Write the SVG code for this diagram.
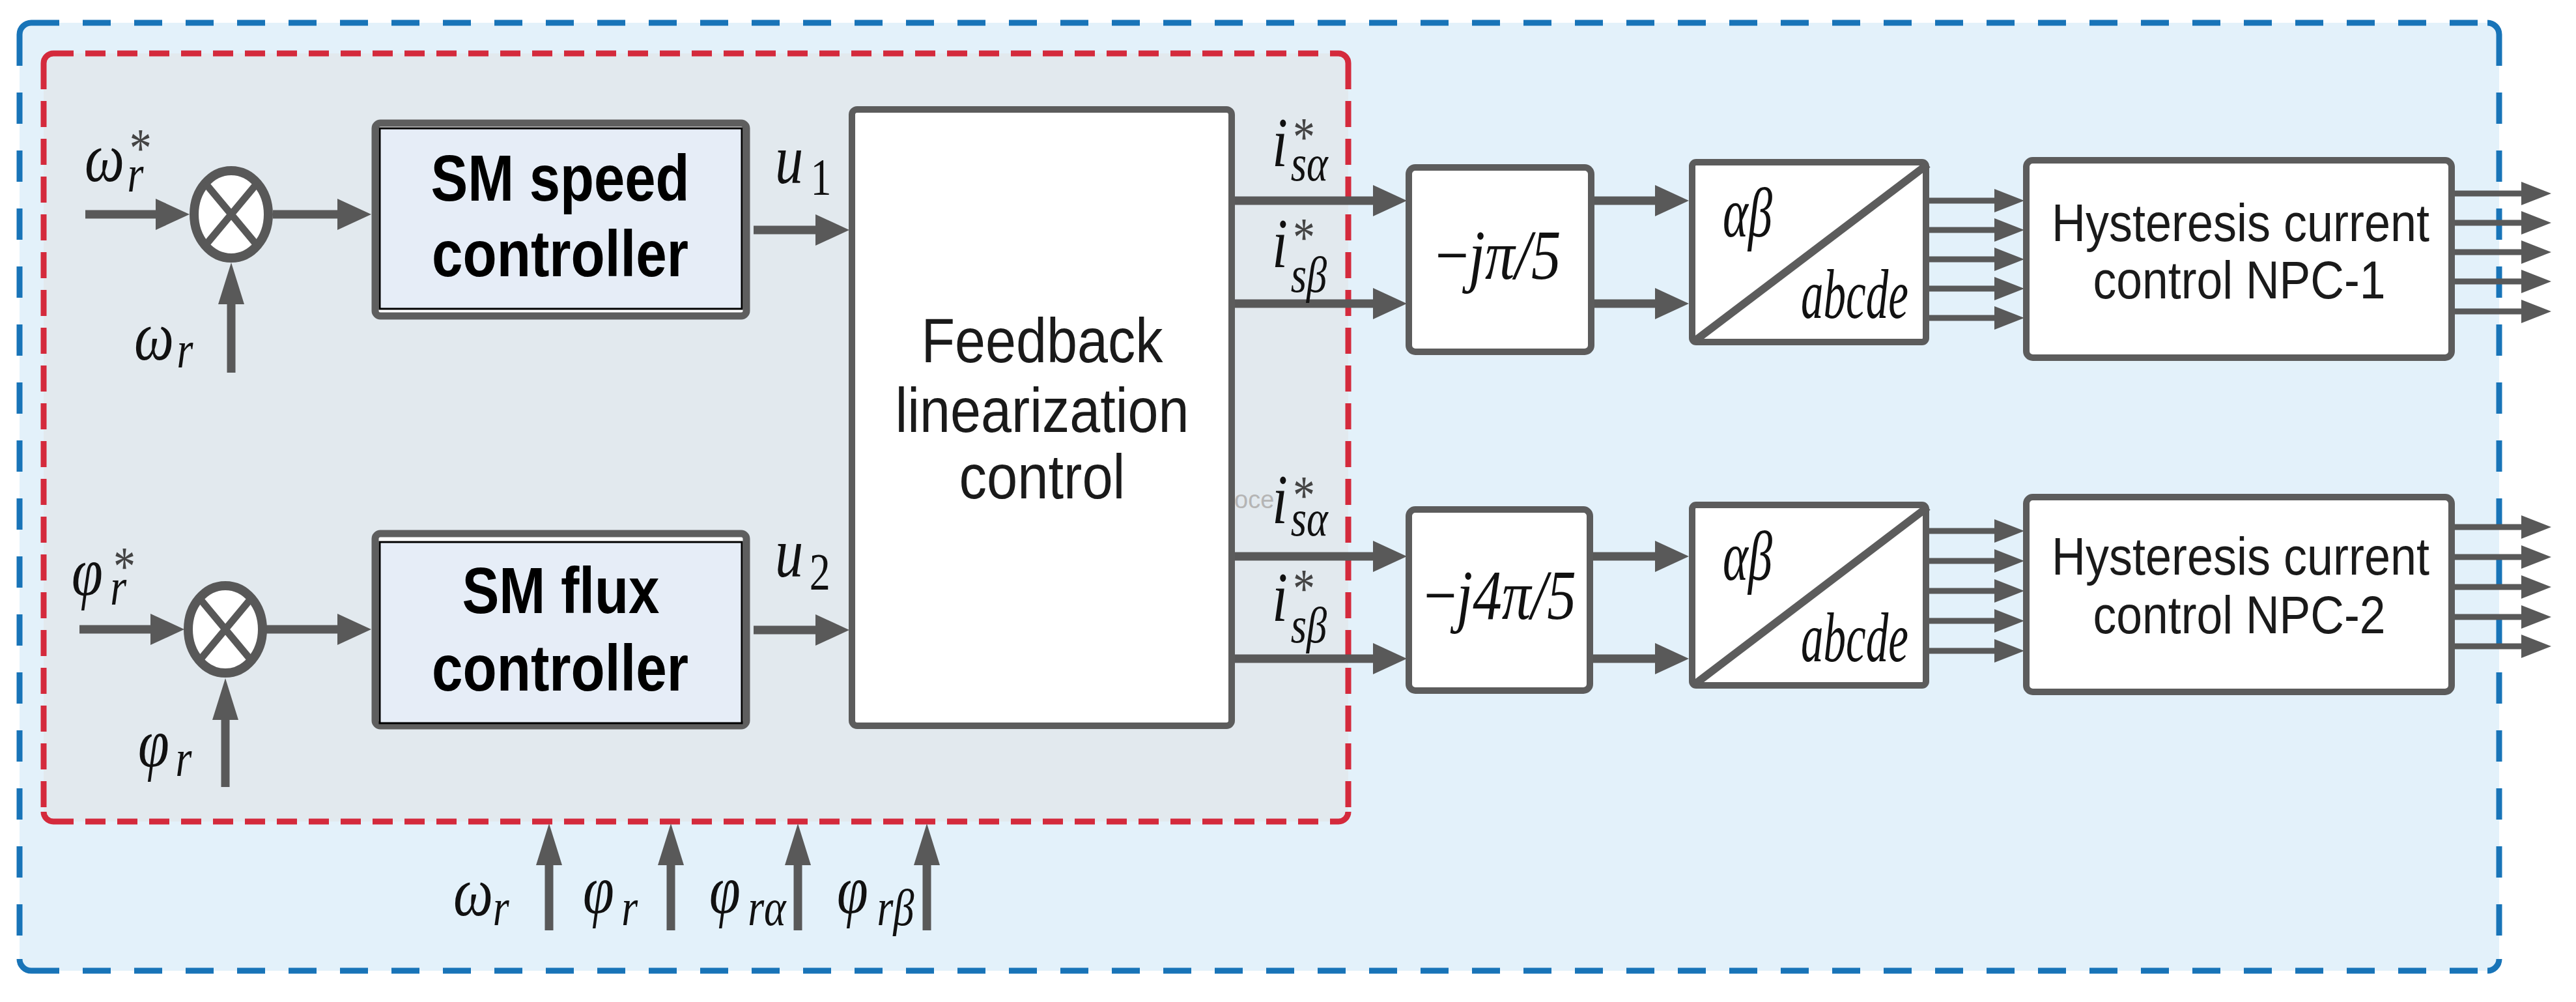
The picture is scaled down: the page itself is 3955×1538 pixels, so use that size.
<svg xmlns="http://www.w3.org/2000/svg" width="3955" height="1538" viewBox="0 0 3955 1538">
<style>
.box{fill:#fff;stroke:#5c5c5c;stroke-width:10}
.smo{fill:#fff;stroke:#5e5e5e;stroke-width:11}
.smi{fill:#E6EDF7;stroke:#000;stroke-width:3}
.sum{fill:#fff;stroke:#585858;stroke-width:14}
.sumx{stroke:#585858;stroke-width:11}
.a{stroke:#595959;stroke-width:13;fill:none}
.ab{stroke:#595959;stroke-width:9;fill:none}
.bl{fill:none;stroke:#1874b8;stroke-width:9}
.rd{fill:none;stroke:#d42a3c;stroke-width:9}
.sans{font-family:"Liberation Sans",Arial,sans-serif}
.bold{font-weight:bold;font-size:100px;fill:#000}
.reg{font-size:96px;fill:#1a1a1a}
.hy{font-size:81px;fill:#1a1a1a}
.m{font-family:"Liberation Serif","Times New Roman",serif;font-style:italic;font-size:108px;fill:#111}
.s{font-size:80px}
.s2{font-size:78px}
.st{font-size:85px;fill:#444;font-style:normal}
.up{font-style:normal}
</style>
<defs>
<marker id="hA" markerUnits="userSpaceOnUse" markerWidth="52" markerHeight="48" viewBox="0 0 52 48" refX="1" refY="24" orient="auto"><path d="M0,0 L52,24 L0,48 z" fill="#595959"/></marker>
<marker id="hB" markerUnits="userSpaceOnUse" markerWidth="46" markerHeight="36" viewBox="0 0 46 36" refX="1" refY="18" orient="auto"><path d="M0,0 L46,18 L0,36 z" fill="#595959"/></marker>
<marker id="hC" markerUnits="userSpaceOnUse" markerWidth="64" markerHeight="40" viewBox="0 0 64 40" refX="1" refY="20" orient="auto"><path d="M0,0 L64,20 L0,40 z" fill="#595959"/></marker>
</defs>
<rect width="3955" height="1538" fill="#fff"/>
<g id="outer-region">
<rect x="30" y="35" width="3807" height="1455" rx="18" fill="#E3F1FA"/>
<path class="bl" d="M48,35 H3819 M48,1490 H3819" stroke-dasharray="43 36"/>
<path class="bl" d="M30,53 V1472 M3837,53 V1472" stroke-dasharray="48 41"/>
<path class="bl" d="M30,53 A18,18 0 0 1 48,35 M3819,35 A18,18 0 0 1 3837,53 M3837,1472 A18,18 0 0 1 3819,1490 M48,1490 A18,18 0 0 1 30,1472"/>
</g>
<g id="inner-region">
<rect x="67" y="82" width="2003" height="1179" rx="15" fill="#E2E9EE"/>
<path class="rd" d="M82,82 H2055 M82,1261 H2055" stroke-dasharray="31 18"/>
<path class="rd" d="M67,97 V1246 M2070,97 V1246" stroke-dasharray="40 18"/>
<path class="rd" d="M67,97 A15,15 0 0 1 82,82 M2055,82 A15,15 0 0 1 2070,97 M2070,1246 A15,15 0 0 1 2055,1261 M82,1261 A15,15 0 0 1 67,1246"/>
</g>
<g id="connectors">
<line class="a" x1="131" y1="329" x2="240" y2="329" marker-end="url(#hA)"/>
<line class="a" x1="419" y1="329" x2="519" y2="329" marker-end="url(#hA)"/>
<line class="a" x1="355" y1="572" x2="355" y2="466" marker-end="url(#hC)"/>
<line class="a" x1="122" y1="966" x2="232" y2="966" marker-end="url(#hA)"/>
<line class="a" x1="409" y1="966" x2="519" y2="966" marker-end="url(#hA)"/>
<line class="a" x1="346" y1="1208" x2="346" y2="1104" marker-end="url(#hC)"/>
<line class="a" x1="1157" y1="353" x2="1253" y2="353" marker-end="url(#hA)"/>
<line class="a" x1="1157" y1="967" x2="1253" y2="967" marker-end="url(#hA)"/>
<line class="a" x1="1891" y1="308" x2="2109" y2="308" marker-end="url(#hA)"/>
<line class="a" x1="1891" y1="466" x2="2109" y2="466" marker-end="url(#hA)"/>
<line class="a" x1="1891" y1="854" x2="2109" y2="854" marker-end="url(#hA)"/>
<line class="a" x1="1891" y1="1011" x2="2109" y2="1011" marker-end="url(#hA)"/>
<line class="a" x1="2443" y1="308" x2="2542" y2="308" marker-end="url(#hA)"/>
<line class="a" x1="2443" y1="466" x2="2542" y2="466" marker-end="url(#hA)"/>
<line class="a" x1="2441" y1="854" x2="2542" y2="854" marker-end="url(#hA)"/>
<line class="a" x1="2441" y1="1011" x2="2542" y2="1011" marker-end="url(#hA)"/>
<g class="ab">
<line x1="2957" y1="308" x2="3063" y2="308" marker-end="url(#hB)"/>
<line x1="2957" y1="353" x2="3063" y2="353" marker-end="url(#hB)"/>
<line x1="2957" y1="398" x2="3063" y2="398" marker-end="url(#hB)"/>
<line x1="2957" y1="443" x2="3063" y2="443" marker-end="url(#hB)"/>
<line x1="2957" y1="488" x2="3063" y2="488" marker-end="url(#hB)"/>
<line x1="2957" y1="815" x2="3063" y2="815" marker-end="url(#hB)"/>
<line x1="2957" y1="861" x2="3063" y2="861" marker-end="url(#hB)"/>
<line x1="2957" y1="907" x2="3063" y2="907" marker-end="url(#hB)"/>
<line x1="2957" y1="953" x2="3063" y2="953" marker-end="url(#hB)"/>
<line x1="2957" y1="999" x2="3063" y2="999" marker-end="url(#hB)"/>
<line x1="3764" y1="297" x2="3872" y2="297" marker-end="url(#hB)"/>
<line x1="3764" y1="342" x2="3872" y2="342" marker-end="url(#hB)"/>
<line x1="3764" y1="387" x2="3872" y2="387" marker-end="url(#hB)"/>
<line x1="3764" y1="432" x2="3872" y2="432" marker-end="url(#hB)"/>
<line x1="3764" y1="478" x2="3872" y2="478" marker-end="url(#hB)"/>
<line x1="3764" y1="809" x2="3872" y2="809" marker-end="url(#hB)"/>
<line x1="3764" y1="855" x2="3872" y2="855" marker-end="url(#hB)"/>
<line x1="3764" y1="901" x2="3872" y2="901" marker-end="url(#hB)"/>
<line x1="3764" y1="947" x2="3872" y2="947" marker-end="url(#hB)"/>
<line x1="3764" y1="992" x2="3872" y2="992" marker-end="url(#hB)"/>
</g>
<line class="a" x1="843" y1="1428" x2="843" y2="1327" marker-end="url(#hC)"/>
<line class="a" x1="1030" y1="1428" x2="1030" y2="1327" marker-end="url(#hC)"/>
<line class="a" x1="1225" y1="1428" x2="1225" y2="1327" marker-end="url(#hC)"/>
<line class="a" x1="1423" y1="1428" x2="1423" y2="1327" marker-end="url(#hC)"/>
</g>
<g id="sum1">
<ellipse class="sum" cx="355" cy="329" rx="57" ry="67"/>
<path class="sumx" d="M315,281 L395,377 M395,281 L315,377"/>
</g>
<g id="sum2">
<ellipse class="sum" cx="346" cy="966" rx="57" ry="67"/>
<path class="sumx" d="M306,918 L386,1014 M386,918 L306,1014"/>
</g>
<g id="sm-speed">
<rect class="smo" x="576" y="189" width="570" height="296" rx="8"/>
<rect class="smi" x="583" y="197" width="556" height="277"/>
<text class="sans bold" x="860" y="308" text-anchor="middle" textLength="397" lengthAdjust="spacingAndGlyphs">SM speed</text>
<text class="sans bold" x="860" y="424" text-anchor="middle" textLength="394" lengthAdjust="spacingAndGlyphs">controller</text>
</g>
<g id="sm-flux">
<rect class="smo" x="576" y="819" width="570" height="295" rx="8"/>
<rect class="smi" x="583" y="832" width="556" height="278"/>
<text class="sans bold" x="861" y="941" text-anchor="middle" textLength="303" lengthAdjust="spacingAndGlyphs">SM flux</text>
<text class="sans bold" x="860" y="1060" text-anchor="middle" textLength="394" lengthAdjust="spacingAndGlyphs">controller</text>
</g>
<g id="flc">
<rect class="box" x="1308" y="168" width="583" height="946" rx="8"/>
<text class="sans reg" x="1600" y="556" text-anchor="middle" textLength="371" lengthAdjust="spacingAndGlyphs">Feedback</text>
<text class="sans reg" x="1600" y="663" text-anchor="middle" textLength="451" lengthAdjust="spacingAndGlyphs">linearization</text>
<text class="sans reg" x="1600" y="765" text-anchor="middle" textLength="255" lengthAdjust="spacingAndGlyphs">control</text>
</g>
<g id="rot1">
<rect class="box" x="2163" y="257" width="280" height="283" rx="10"/>
<text class="m" x="2300" y="428" font-size="100" text-anchor="middle" textLength="193" lengthAdjust="spacingAndGlyphs"><tspan class="up">−</tspan>jπ/5</text>
</g>
<g id="rot2">
<rect class="box" x="2163" y="782" width="278" height="278" rx="10"/>
<text class="m" x="2303" y="950" font-size="100" text-anchor="middle" textLength="234" lengthAdjust="spacingAndGlyphs"><tspan class="up">−</tspan>j4π/5</text>
</g>
<g id="conv1">
<rect class="box" x="2598" y="249" width="359" height="276" rx="6"/>
<line x1="2601" y1="524" x2="2960" y2="252" stroke="#5c5c5c" stroke-width="12"/>
<text class="m" x="2645" y="363" font-size="80" textLength="76" lengthAdjust="spacingAndGlyphs">αβ</text>
<text class="m" x="2765" y="488" font-size="80" textLength="165" lengthAdjust="spacingAndGlyphs">abcde</text>
</g>
<g id="conv2">
<rect class="box" x="2598" y="775" width="359" height="277" rx="6"/>
<line x1="2601" y1="1051" x2="2960" y2="778" stroke="#5c5c5c" stroke-width="12"/>
<text class="m" x="2645" y="890" font-size="80" textLength="76" lengthAdjust="spacingAndGlyphs">αβ</text>
<text class="m" x="2765" y="1015" font-size="80" textLength="165" lengthAdjust="spacingAndGlyphs">abcde</text>
</g>
<g id="hyst1">
<rect class="box" x="3111" y="246" width="653" height="303" rx="10"/>
<text class="sans hy" x="3440" y="370" text-anchor="middle" textLength="580" lengthAdjust="spacingAndGlyphs">Hysteresis current</text>
<text class="sans hy" x="3438" y="458" text-anchor="middle" textLength="449" lengthAdjust="spacingAndGlyphs">control NPC-1</text>
</g>
<g id="hyst2">
<rect class="box" x="3111" y="763" width="653" height="299" rx="10"/>
<text class="sans hy" x="3440" y="882" text-anchor="middle" textLength="580" lengthAdjust="spacingAndGlyphs">Hysteresis current</text>
<text class="sans hy" x="3438" y="972" text-anchor="middle" textLength="449" lengthAdjust="spacingAndGlyphs">control NPC-2</text>
</g>
<g id="labels">
<g transform="translate(130,278) scale(0.8,1)"><text class="m"><tspan x="0" y="0">ω</tspan><tspan class="s" x="82" y="16">r</tspan><tspan class="st" x="86" y="-22">*</tspan></text></g>
<g transform="translate(206,552) scale(0.8,1)"><text class="m"><tspan x="0" y="0">ω</tspan><tspan class="s" x="82" y="12">r</tspan></text></g>
<g transform="translate(110,914) scale(0.8,1)"><text class="m"><tspan x="0" y="0">φ</tspan><tspan class="s" x="74" y="14">r</tspan><tspan class="st" x="80" y="-16">*</tspan></text></g>
<g transform="translate(212,1177) scale(0.8,1)"><text class="m"><tspan x="0" y="0">φ</tspan><tspan class="s" x="72" y="14">r</tspan></text></g>
<g transform="translate(696,1405) scale(0.8,1)"><text class="m"><tspan x="0" y="0">ω</tspan><tspan class="s" x="76" y="15">r</tspan></text></g>
<g transform="translate(895,1402) scale(0.8,1)"><text class="m"><tspan x="0" y="0">φ</tspan><tspan class="s" x="74" y="18">r</tspan></text></g>
<g transform="translate(1089,1402) scale(0.8,1)"><text class="m"><tspan x="0" y="0">φ</tspan><tspan class="s" x="74" y="18">rα</tspan></text></g>
<g transform="translate(1285,1402) scale(0.8,1)"><text class="m"><tspan x="0" y="0">φ</tspan><tspan class="s" x="77" y="18">rβ</tspan></text></g>
<g transform="translate(1190,281) scale(0.8,1)"><text class="m" font-size="118"><tspan x="0" y="0">u</tspan><tspan class="s up" x="68" y="18">1</tspan></text></g>
<g transform="translate(1190,885) scale(0.8,1)"><text class="m" font-size="118"><tspan x="0" y="0">u</tspan><tspan class="s up" x="66" y="20">2</tspan></text></g>
<g transform="translate(1953,255) scale(0.8,1)"><text class="m" font-size="98"><tspan x="0" y="0">i</tspan><tspan class="st" x="40" y="-16">*</tspan><tspan class="s2" x="36" y="22">sα</tspan></text></g>
<g transform="translate(1953,410) scale(0.8,1)"><text class="m" font-size="98"><tspan x="0" y="0">i</tspan><tspan class="st" x="40" y="-17">*</tspan><tspan class="s2" x="36" y="38">sβ</tspan></text></g>
<text class="sans" x="1895" y="780" font-size="38" fill="#b5b5b5">oce</text>
<g transform="translate(1953,803) scale(0.8,1)"><text class="m" font-size="98"><tspan x="0" y="0">i</tspan><tspan class="st" x="40" y="-14">*</tspan><tspan class="s2" x="36" y="19">sα</tspan></text></g>
<g transform="translate(1953,953) scale(0.8,1)"><text class="m" font-size="98"><tspan x="0" y="0">i</tspan><tspan class="st" x="40" y="-21">*</tspan><tspan class="s2" x="36" y="33">sβ</tspan></text></g>
</g>
</svg>
